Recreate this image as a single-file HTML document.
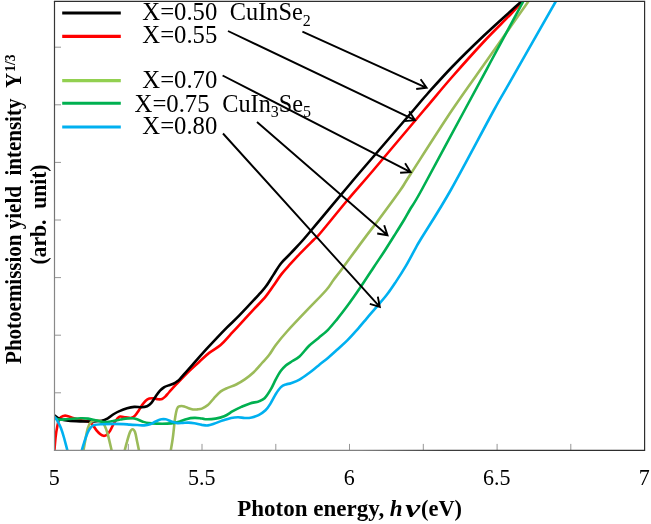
<!DOCTYPE html>
<html lang="en"><head><meta charset="utf-8"><title>Photoemission yield</title>
<style>html,body{margin:0;padding:0;background:#fff}body{width:651px;height:524px;overflow:hidden}svg{display:block}</style>
</head><body>
<svg width="651" height="524" viewBox="0 0 651 524">
<defs><clipPath id="pa"><rect x="54.5" y="1.3" width="590.1" height="449.1"/></clipPath>
<linearGradient id="gl" gradientUnits="userSpaceOnUse" x1="0" y1="0" x2="0" y2="450"><stop offset="0" stop-color="#303030"/><stop offset="0.2" stop-color="#454545"/><stop offset="0.5" stop-color="#7a7a7a"/><stop offset="0.7" stop-color="#8a8a8a"/><stop offset="1" stop-color="#8a8a8a"/></linearGradient>
<linearGradient id="gb" gradientUnits="userSpaceOnUse" x1="54" y1="0" x2="645" y2="0"><stop offset="0" stop-color="#8a8a8a"/><stop offset="0.52" stop-color="#808080"/><stop offset="0.66" stop-color="#3c3c3c"/><stop offset="1" stop-color="#2b2b2b"/></linearGradient></defs>
<rect width="651" height="524" fill="#fff"/>
<path d="M128.3 450.4 v-6.5M202.0 450.4 v-6.5M275.8 450.4 v-6.5M349.5 450.4 v-6.5M423.3 450.4 v-6.5M497.1 450.4 v-6.5M570.8 450.4 v-6.5M54.5 392.8 h6.5M54.5 335.2 h6.5M54.5 277.6 h6.5M54.5 220.0 h6.5M54.5 162.4 h6.5M54.5 104.8 h6.5M54.5 47.2 h6.5" stroke="#969696" stroke-width="1" fill="none"/>
<g clip-path="url(#pa)" fill="none" stroke-width="2.6" stroke-linejoin="round" stroke-linecap="butt">
<path d="M54.3 452.0C54.5 449.7 55.0 442.4 55.5 438.0C56.0 433.6 56.7 429.0 57.4 425.7C58.1 422.4 58.8 419.9 59.8 418.3C60.8 416.7 62.3 416.3 63.5 415.9C64.7 415.5 65.8 415.6 67.2 415.9C68.6 416.2 69.8 417.0 72.1 417.7C74.3 418.4 78.0 419.5 80.7 420.2C83.4 420.9 86.1 420.9 88.1 421.6C90.0 422.3 91.0 423.0 92.4 424.5C93.8 426.0 95.4 429.0 96.7 430.6C98.0 432.2 99.3 433.4 100.4 434.3C101.5 435.2 102.4 435.7 103.4 435.8C104.4 435.9 105.4 435.9 106.5 435.0C107.6 434.1 109.0 432.6 110.2 430.6C111.4 428.7 112.8 425.2 113.9 423.3C115.0 421.4 116.0 420.1 117.0 419.0C118.0 417.9 118.5 416.9 120.0 416.6C121.5 416.3 123.8 417.2 125.7 417.4C127.6 417.6 129.8 418.2 131.4 417.9C133.0 417.6 133.8 416.9 135.0 415.7C136.2 414.5 137.4 412.5 138.6 410.7C139.8 408.9 140.9 406.7 142.1 405.0C143.3 403.3 144.5 401.8 145.7 400.7C146.9 399.6 148.0 399.0 149.3 398.6C150.6 398.2 152.2 398.2 153.6 398.3C155.0 398.4 156.5 399.2 157.9 399.3C159.3 399.4 160.8 399.5 162.1 399.0C163.4 398.5 164.3 397.6 165.5 396.4C166.7 395.2 167.4 394.1 169.3 392.0C171.2 389.9 173.5 387.2 176.7 383.9C179.8 380.6 184.4 375.7 188.2 372.0C192.0 368.3 196.1 364.7 199.6 361.5C203.1 358.3 205.7 355.6 209.2 352.9C212.7 350.1 217.1 348.0 220.6 345.0C224.1 342.0 227.0 338.2 230.2 334.8C233.4 331.4 235.7 329.0 239.7 324.6C243.7 320.2 250.1 313.4 254.4 308.7C258.8 304.0 262.6 300.1 265.8 296.3C269.0 292.5 270.8 289.4 273.4 285.8C275.9 282.2 278.6 277.9 281.1 274.6C283.7 271.3 285.5 269.3 288.7 265.8C291.9 262.3 296.1 257.7 300.2 253.4C304.3 249.1 310.2 243.3 313.5 240.0C316.8 236.7 314.3 240.2 320.0 233.5C325.7 226.8 338.7 210.6 347.6 200.0C356.5 189.4 360.8 185.0 373.5 170.0C386.2 155.0 410.9 125.6 424.1 110.0C437.3 94.4 442.5 87.9 452.5 76.5C462.5 65.1 474.4 51.8 484.0 41.5C493.6 31.2 503.5 21.8 510.0 15.0C516.5 8.2 518.8 5.3 523.0 1.0C527.2 -3.3 533.0 -9.0 535.0 -11.0" stroke="#ff0000"/>
<path d="M54.3 415.3C55.2 415.9 57.4 418.1 59.8 419.0C62.1 419.9 64.9 420.4 68.4 420.8C71.9 421.2 76.6 421.3 80.7 421.4C84.8 421.5 89.5 421.5 93.0 421.4C96.5 421.3 99.1 421.3 101.6 420.8C104.1 420.3 105.8 419.4 107.8 418.3C109.8 417.2 111.9 415.2 113.9 414.0C115.9 412.8 117.8 411.8 120.0 410.9C122.2 409.9 124.7 409.0 127.1 408.3C129.5 407.6 131.9 407.1 134.3 406.9C136.7 406.7 139.3 407.3 141.4 407.2C143.5 407.1 145.4 406.9 147.1 406.2C148.8 405.5 150.0 404.5 151.4 402.9C152.8 401.3 154.3 398.4 155.7 396.4C157.1 394.4 158.6 392.2 160.0 390.7C161.4 389.1 162.9 388.0 164.3 387.1C165.7 386.2 167.0 386.0 168.6 385.4C170.2 384.8 172.4 384.2 173.9 383.5C175.4 382.8 176.2 382.2 177.3 381.3C178.4 380.4 178.1 381.1 180.5 378.4C182.9 375.7 187.5 370.3 192.0 365.3C196.5 360.3 201.6 354.4 207.3 348.2C213.0 342.0 221.0 333.5 226.3 328.1C231.6 322.7 233.8 321.2 239.1 315.7C244.4 310.2 253.8 300.1 258.2 295.3C262.6 290.5 263.3 290.0 265.8 286.6C268.3 283.2 270.8 278.8 273.4 274.9C275.9 271.0 278.2 266.8 281.1 263.2C284.0 259.6 287.0 257.3 290.6 253.4C294.2 249.5 298.1 245.6 303.0 240.0C307.9 234.4 313.0 228.1 320.0 219.8C327.0 211.5 338.0 198.3 345.0 190.0C352.0 181.7 350.5 183.3 361.9 170.0C373.3 156.7 402.7 122.7 413.6 110.0C424.5 97.3 420.8 101.2 427.3 94.0C433.8 86.8 443.1 76.2 452.5 66.5C461.9 56.8 474.4 44.6 484.0 35.5C493.6 26.4 503.7 17.4 510.0 11.7C516.3 5.9 517.8 4.6 522.0 1.0C526.2 -2.6 532.8 -8.2 535.0 -10.0" stroke="#000"/>
<path d="M83.2 452.0C83.8 448.6 85.9 436.5 86.9 431.9C87.9 427.3 88.5 426.2 89.3 424.5C90.1 422.8 90.6 422.1 91.8 421.4C93.0 420.7 95.1 420.1 96.7 420.2C98.3 420.3 100.3 420.9 101.6 421.8C102.9 422.7 103.7 423.6 104.7 425.7C105.7 427.8 106.6 429.9 107.8 434.3C109.0 438.7 111.3 449.1 112.0 452.0M124.3 452.0C124.8 450.2 126.1 444.7 127.1 441.4C128.0 438.1 129.1 434.1 130.0 432.1C130.9 430.1 131.8 429.3 132.6 429.3C133.4 429.3 134.2 430.1 135.0 432.1C135.8 434.1 136.4 438.1 137.1 441.4C137.8 444.7 138.9 450.2 139.3 452.0M170.5 452.0C170.9 449.5 172.2 442.7 172.9 437.1C173.7 431.5 174.3 423.4 175.0 418.6C175.7 413.9 176.3 410.7 177.1 408.6C177.9 406.5 178.8 406.6 180.0 406.2C181.2 405.8 182.9 406.0 184.3 406.4C185.7 406.8 187.2 407.8 188.6 408.3C190.0 408.8 191.5 409.3 192.9 409.5C194.3 409.7 195.6 409.5 197.1 409.4C198.6 409.2 200.1 409.3 201.9 408.6C203.7 407.9 205.9 406.8 207.9 405.1C209.9 403.4 211.8 400.6 213.9 398.3C216.1 396.0 218.5 393.1 220.8 391.4C223.1 389.7 225.0 389.0 227.6 387.9C230.2 386.8 233.3 385.9 236.2 384.5C239.1 383.1 241.9 381.4 244.8 379.4C247.7 377.4 250.5 375.2 253.4 372.5C256.3 369.8 259.4 365.9 262.0 363.0C264.6 360.1 266.6 358.3 268.9 355.3C271.2 352.3 272.8 349.0 275.8 345.0C278.8 341.0 281.6 337.5 287.0 331.5C292.4 325.5 301.4 316.1 308.0 309.2C314.6 302.3 322.1 294.9 326.3 290.0C330.6 285.1 330.7 283.7 333.5 280.0C336.3 276.3 337.8 274.5 342.9 267.7C348.0 260.9 357.8 247.2 363.9 239.1C369.9 231.0 373.1 227.2 379.2 219.0C385.3 210.8 395.3 197.3 400.4 190.0C405.5 182.7 401.4 188.3 410.0 175.0C418.6 161.7 439.2 129.2 452.1 110.0C465.0 90.8 477.1 74.5 487.2 60.0C497.3 45.5 506.1 33.1 513.0 23.3C519.9 13.5 524.8 6.5 528.7 1.0C532.6 -4.5 535.1 -8.2 536.4 -10.0" stroke="#9bbb59"/>
<path d="M54.3 417.7C55.2 418.0 57.4 419.4 59.8 419.6C62.1 419.8 64.9 419.2 68.4 419.0C71.9 418.8 77.4 418.4 80.7 418.3C84.0 418.2 85.6 418.3 88.1 418.6C90.6 418.9 93.2 419.7 95.5 420.2C97.8 420.7 99.8 421.5 101.6 421.8C103.4 422.1 104.5 422.2 106.5 422.0C108.5 421.8 111.7 421.2 113.9 420.8C116.2 420.4 118.0 420.0 120.0 419.6C122.0 419.2 123.8 418.8 125.7 418.6C127.6 418.4 129.5 418.2 131.4 418.3C133.3 418.4 135.2 418.7 137.1 419.3C139.0 419.9 141.0 421.1 142.9 421.7C144.8 422.3 146.2 422.8 148.6 423.1C151.0 423.4 154.0 423.5 157.1 423.6C160.2 423.7 164.2 423.7 167.1 423.6C170.0 423.5 172.2 423.3 174.3 422.9C176.5 422.5 177.9 422.1 180.0 421.4C182.1 420.7 184.7 419.5 187.1 418.9C189.5 418.3 192.2 418.0 194.3 417.9C196.5 417.8 198.2 418.0 200.0 418.2C201.8 418.4 202.7 419.1 205.3 419.2C207.9 419.3 212.4 419.1 215.6 418.6C218.8 418.1 221.3 417.5 224.2 416.3C227.1 415.1 229.9 412.8 232.8 411.2C235.7 409.6 238.5 408.2 241.4 406.9C244.3 405.6 247.1 404.3 250.0 403.4C252.9 402.5 256.2 402.2 258.6 401.4C261.0 400.5 262.6 400.2 264.6 398.3C266.6 396.4 268.7 392.9 270.6 389.7C272.5 386.5 274.1 382.5 275.8 379.4C277.5 376.2 279.2 373.1 280.9 370.8C282.6 368.5 284.4 366.8 286.1 365.3C287.8 363.8 288.8 363.5 291.0 362.0C293.2 360.5 296.5 359.2 299.5 356.5C302.5 353.8 305.9 348.9 309.1 345.8C312.3 342.7 315.5 340.6 318.6 337.9C321.8 335.2 324.9 333.0 328.0 329.8C331.1 326.6 334.1 322.8 337.4 318.8C340.7 314.8 343.9 310.6 347.6 305.6C351.3 300.6 355.3 294.9 359.6 288.6C363.9 282.3 369.2 274.1 373.4 267.7C377.6 261.3 381.1 256.4 384.9 250.5C388.7 244.6 393.1 237.5 396.3 232.4C399.5 227.3 401.7 223.8 404.0 220.0C406.3 216.2 407.1 214.5 410.0 209.5C412.9 204.5 412.5 206.6 421.6 190.0C430.7 173.4 453.2 131.2 464.7 110.0C476.1 88.8 482.8 76.5 490.3 62.5C497.8 48.5 504.4 36.5 509.9 26.2C515.4 15.9 520.2 7.0 523.5 1.0C526.8 -5.0 528.4 -8.2 529.4 -10.0" stroke="#00b050"/>
<path d="M54.3 416.5C54.8 417.2 56.3 418.9 57.4 420.8C58.5 422.8 59.9 425.3 61.0 428.2C62.1 431.1 63.0 434.0 64.1 438.0C65.2 442.0 67.2 449.7 67.8 452.0M81.3 452.0C81.8 450.3 83.4 444.8 84.4 441.7C85.4 438.6 86.5 435.5 87.5 433.1C88.5 430.8 89.5 428.9 90.6 427.6C91.7 426.3 92.4 425.7 94.2 425.1C96.0 424.5 98.3 424.4 101.6 424.2C104.9 424.0 110.2 423.9 113.9 423.9C117.6 423.9 121.0 424.0 123.7 424.1C126.4 424.2 127.8 424.5 130.0 424.6C132.2 424.8 134.7 424.9 137.1 425.0C139.5 425.1 142.2 425.5 144.3 425.4C146.5 425.3 148.1 425.0 150.0 424.3C151.9 423.6 153.8 422.2 155.7 421.4C157.6 420.6 159.7 419.6 161.4 419.3C163.1 419.0 164.0 419.0 165.7 419.3C167.4 419.6 169.5 420.8 171.4 421.4C173.3 422.0 175.2 422.9 177.1 423.1C179.0 423.4 181.0 423.0 182.9 422.9C184.8 422.8 186.7 422.5 188.6 422.6C190.5 422.7 192.1 422.9 194.3 423.3C196.5 423.7 199.6 424.5 201.9 424.9C204.2 425.2 205.9 425.6 207.9 425.4C209.9 425.2 211.5 424.5 213.9 423.7C216.3 422.9 219.6 421.6 222.5 420.6C225.4 419.7 228.5 418.6 231.1 418.0C233.7 417.4 235.7 417.2 238.0 417.2C240.3 417.2 242.5 417.9 244.8 418.0C247.1 418.1 249.4 418.0 251.7 417.5C254.0 417.0 256.3 416.3 258.6 415.1C260.9 413.9 263.5 412.2 265.5 410.3C267.5 408.4 268.9 406.1 270.6 403.4C272.3 400.7 274.1 396.7 275.8 394.0C277.5 391.3 279.2 388.7 280.9 387.1C282.6 385.5 284.4 385.0 286.1 384.4C287.8 383.8 288.8 384.0 291.0 383.2C293.2 382.4 296.5 381.4 299.5 379.7C302.5 378.0 305.9 375.4 309.1 373.0C312.3 370.6 315.4 367.9 318.6 365.4C321.8 362.8 325.0 360.4 328.2 357.7C331.4 355.0 334.5 352.1 337.7 349.2C340.9 346.3 344.1 343.6 347.3 340.4C350.5 337.2 353.6 333.7 356.8 330.1C360.0 326.5 363.2 322.6 366.4 318.8C369.6 315.0 372.8 311.4 376.2 307.4C379.6 303.4 383.4 299.2 386.8 294.8C390.2 290.4 393.1 285.9 396.3 281.1C399.5 276.3 402.7 271.2 405.9 265.8C409.1 260.4 413.0 252.8 415.4 248.6C417.8 244.4 414.1 250.3 420.0 240.5C425.9 230.7 438.5 211.8 450.8 190.0C463.1 168.2 484.1 128.0 494.0 110.0C503.9 92.0 499.7 100.1 510.0 81.9C520.3 63.7 547.3 16.3 556.0 1.0C564.7 -14.3 561.2 -8.2 562.3 -10.0" stroke="#00b0f0"/>
</g>
<path d="M53.9 1.3 H644.6 V451.0" stroke="#2e2e2e" stroke-width="1.2" fill="none"/>
<path d="M54.5 1.3 V450.4" stroke="url(#gl)" stroke-width="1.2" fill="none"/>
<path d="M53.9 450.4 H644.6" stroke="url(#gb)" stroke-width="1.2" fill="none"/>
<path d="M62.2 13.0 H120.8" stroke="#000" stroke-width="3.1"/>
<path d="M62.2 36.4 H120.8" stroke="#ff0000" stroke-width="3.1"/>
<path d="M62.2 80.6 H120.8" stroke="#92d050" stroke-width="3.1"/>
<path d="M62.2 103.3 H120.8" stroke="#00b050" stroke-width="3.1"/>
<path d="M62.2 127.0 H120.8" stroke="#00b0f0" stroke-width="3.1"/>
<g stroke="#000" stroke-width="1.9" fill="none" stroke-linecap="butt" stroke-linejoin="miter">
<path d="M302.4 31.6 L426.6 87.8 M416.2 89.0 L426.6 87.8 L420.6 79.2"/>
<path d="M228.0 31.0 L415.0 120.1 M404.5 121.1 L415.0 120.1 L409.2 111.3"/>
<path d="M222.6 75.5 L410.6 172.1 M400.1 172.8 L410.6 172.1 L405.1 163.2"/>
<path d="M257.0 122.0 L387.5 235.3 M377.2 233.5 L387.5 235.3 L384.2 225.3"/>
<path d="M223.0 133.5 L379.8 306.9 M369.8 303.9 L379.8 306.9 L377.8 296.6"/>
</g>
<g font-family="'Liberation Serif', 'Times New Roman', serif" fill="#000">
<text transform="translate(142.3 20.3)" font-size="24.7">X=0.50</text>
<text transform="translate(229.8 20.3)" font-size="24.3">CuInSe<tspan font-size="16" dy="5.6">2</tspan></text>
<text transform="translate(142.3 43.3)" font-size="24.7">X=0.55</text>
<text transform="translate(142.3 87.9)" font-size="24.7">X=0.70</text>
<text transform="translate(134.6 111.5)" font-size="24.7">X=0.75</text>
<text transform="translate(222.2 111.5)" font-size="24.3">CuIn<tspan font-size="16" dy="5.6">3</tspan><tspan dy="-5.6">Se</tspan><tspan font-size="16" dy="5.6">5</tspan></text>
<text transform="translate(142.3 133.7)" font-size="24.7">X=0.80</text>
</g>
<g font-family="'Liberation Serif', 'Times New Roman', serif" fill="#000" text-anchor="middle">
<text transform="translate(54.2 484.6) scale(1.000 1.030)" font-size="22">5</text>
<text transform="translate(201.7 484.6) scale(1.000 1.030)" font-size="22">5.5</text>
<text transform="translate(349.2 484.6) scale(1.000 1.030)" font-size="22">6</text>
<text transform="translate(496.8 484.6) scale(1.000 1.030)" font-size="22">6.5</text>
<text transform="translate(644.3 484.6) scale(1.000 1.030)" font-size="22">7</text>
</g>
<g font-family="'Liberation Serif', 'Times New Roman', serif" font-weight="bold" fill="#000">
<text transform="translate(237.2 516.2)" font-size="23">Photon energy,</text>
<text transform="translate(389.8 516.2)" font-size="23" font-style="italic">h</text>
<text transform="translate(405.2 517.2) scale(1.300 1.000)" font-size="26" font-style="italic">ν</text>
<text transform="translate(421.0 516.2)" font-size="22.4">(eV)</text>
<text transform="translate(21.3 363.9) rotate(-90) scale(1.000 1.080)" font-size="21">Photoemission yield&#160;&#160;intensity&#160;&#160;Y<tspan font-size="13.5" dy="-5.6" dx="1.2">1/3</tspan></text>
<text transform="translate(45.7 264.6) rotate(-90) scale(1.000 1.080)" font-size="21.6">(arb.&#160;&#160;unit)</text>
</g>
</svg>
</body></html>
